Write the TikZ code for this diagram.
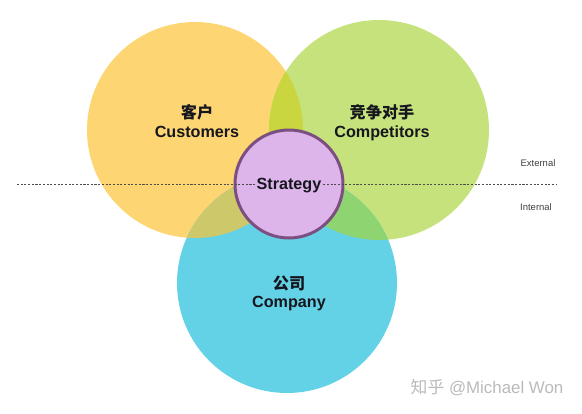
\documentclass[tikz,border=0pt]{standalone}
\usepackage{fontspec}
\setmainfont{Liberation Sans}
\newfontfamily\cjk{Noto Sans CJK SC}
\usepackage{tikz}
\usepackage{xcolor}
\usetikzlibrary{calc,positioning}
\definecolor{custyellow}{HTML}{FDD673}
\definecolor{compgreen}{HTML}{C6E27C}
\definecolor{compblue}{HTML}{64D2E6}
\definecolor{ygmix}{HTML}{C9D63F}
\definecolor{ybmix}{HTML}{CDC86A}
\definecolor{gbmix}{HTML}{8ED470}
\definecolor{stratfill}{HTML}{DDB5EB}
\definecolor{stratline}{HTML}{7B4F80}
\definecolor{labelink}{HTML}{16161E}
\newcommand{\ringr}{110}

\begin{document}
\begin{tikzpicture}[x=0.02cm, y=-0.02cm,
  lab/.style={font=\bfseries\fontsize{9.2}{10}\selectfont, text=labelink, inner sep=0pt},
  side/.style={font=\fontsize{5.4}{6}\selectfont, text=black!75, inner sep=0pt}]
  \useasboundingbox (0,0) rectangle (582,413);
  \coordinate (cust) at (195,130);
  \coordinate (comp) at (379,130);
  \coordinate (firm) at (287,283);
  \coordinate (strat) at (289,184);
  % the three circles
  \fill[custyellow] (cust) circle[radius=108];
  \fill[compgreen] (comp) circle[radius=\ringr];
  \fill[compblue] (firm) circle[radius=\ringr];
  % overlaps
  \begin{scope}
    \clip (cust) circle[radius=108];
    \fill[ygmix] (comp) circle[radius=\ringr];
    \fill[ybmix] (firm) circle[radius=\ringr];
  \end{scope}
  \begin{scope}
    \clip (comp) circle[radius=\ringr];
    \fill[gbmix] (firm) circle[radius=\ringr];
  \end{scope}
  \fill[stratfill, draw=stratline, line width=1.7pt] (strat) circle[radius=54];
  % external / internal divide
  \coordinate (lineL) at (17,184);
  \coordinate (lineR) at (557,184);
  \draw[black!70, line width=0.5pt, dash pattern=on 1.2pt off 0.9pt] (lineL) -- (lineR);
  \node[side] (ext) at (538,163) {External};
  \node[side] (int) at (536,207) {Internal};
  \node[lab, fill=stratfill, inner sep=1pt] (stratlab) at (289,186) {Strategy};
  % labels
  \node[lab] (custzh) at (197,112) {\cjk\bfseries 客户};
  \node[lab, below=3pt of custzh] (custen) {Customers};
  \node[lab] (compzh) at (382,112) {\cjk\bfseries 竞争对手};
  \node[lab, below=3pt of compzh] (compen) {Competitors};
  \node[lab] (firmzh) at (289,283) {\cjk\bfseries 公司};
  \node[lab, below=3pt of firmzh] (firmen) {Company};
  \node[font=\fontsize{9.6}{11}\selectfont, text=black!27, inner sep=0pt] (mark) at (487,388)
    {{\cjk 知乎} @Michael Won};
\end{tikzpicture}
\end{document}
